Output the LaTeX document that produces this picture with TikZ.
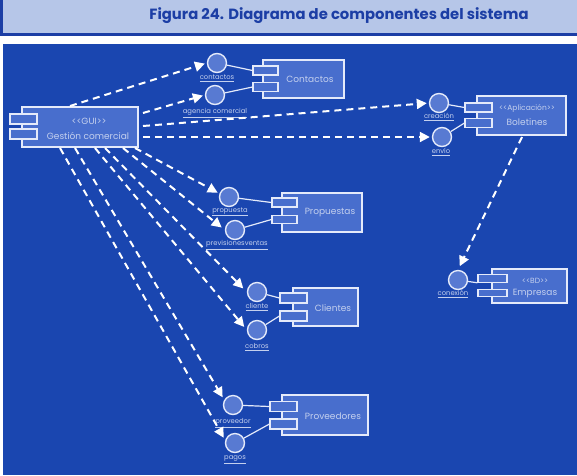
\documentclass[tikz,border=0pt]{standalone}
\usepackage{fontspec}
\setmainfont{Poppins}
\usetikzlibrary{arrows.meta}
\definecolor{bg}{RGB}{26,70,176}
\definecolor{titlebg}{RGB}{182,198,232}
\definecolor{titletext}{RGB}{28,62,165}
\definecolor{compfill}{RGB}{72,110,205}
\definecolor{circfill}{RGB}{88,122,210}
\definecolor{comptext}{RGB}{196,208,238}
\definecolor{edge}{RGB}{228,234,250}
\newcommand{\stereo}[1]{<\kern0pt<\kern0pt#1\kern0pt>\kern0pt>}
\tikzset{
  comp/.style={draw=edge, line width=1.1pt, fill=compfill, inner sep=0pt},
  tabbox/.style={draw=edge, line width=1.1pt, fill=compfill, inner sep=0pt},
  iface/.style={circle, draw=edge, line width=1.4pt, fill=circfill, minimum size=19pt, inner sep=0pt},
  conn/.style={draw=edge, line width=1.2pt},
  dep/.style={draw=white, line width=2pt, dash pattern=on 7pt off 5pt, shorten >=2pt,
     -{Triangle[length=10pt,width=10pt]}},
  lbl/.style={font=\fontsize{6.8}{7}\selectfont, text=comptext, inner sep=0pt},
  ctext/.style={font=\fontsize{9}{10}\selectfont, text=comptext, inner sep=0pt},
  stext/.style={font=\fontsize{7.5}{8}\selectfont, text=comptext, inner sep=0pt}
}
\begin{document}
\begin{tikzpicture}[x=1pt,y=-1pt]
\useasboundingbox (0,0) rectangle (577,475);
\fill[white] (0,0) rectangle (577,475);
% title bar
\fill[titlebg] (0,0) rectangle (577,34);
\draw[titletext, line width=2.5pt] (1.25,0) -- (1.25,34.5) -- (577,34.5);
\node[font=\bfseries\fontsize{14.8}{16}\selectfont, text=titletext, inner sep=0pt] (title) at (339,16) {Figura 24. Diagrama de componentes del sistema};
% background
\fill[bg] (2.5,44) rectangle (577,475);

% GUI component
\node[comp, minimum width=116pt, minimum height=40pt] (gui) at (80,127) {};
\node[tabbox, minimum width=27pt, minimum height=10pt] (gt1) at (23.5,119) {};
\node[tabbox, minimum width=27pt, minimum height=10pt] (gt2) at (23.5,134) {};
\node[ctext] (guit1) at (89,121) {\stereo{GUI}};
\node[ctext] (guit2) at (88,136) {Gestión comercial};

% Contactos
\node[comp, minimum width=81pt, minimum height=38pt] (cont) at (303.5,79) {};
\node[tabbox, minimum width=25pt, minimum height=9pt] (ct1) at (265.5,70.5) {};
\node[tabbox, minimum width=25pt, minimum height=9pt] (ct2) at (265.5,87) {};
\node[ctext] (contt) at (310,79) {Contactos};
\node[iface] (ic1) at (217,63) {};
\node[iface] (ic2) at (215,95) {};
\node[lbl] (lc1) at (217,78) {\underline{contactos}};
\node[lbl] (lc2) at (215,113) {\underline{agencia comercial}};
\draw[conn] (ic1) -- (ct1.west);
\draw[conn] (ic2) -- (ct2.west);

% Boletines
\node[comp, minimum width=89pt, minimum height=39pt] (bol) at (521.5,115.5) {};
\node[tabbox, minimum width=27pt, minimum height=9pt] (bt1) at (478.5,107.5) {};
\node[tabbox, minimum width=27pt, minimum height=9pt] (bt2) at (478.5,123) {};
\node[stext] (bolt1) at (527,109) {\stereo{Aplicación}};
\node[ctext] (bolt2) at (527,122) {Boletines};
\node[iface] (ib1) at (439,103) {};
\node[iface] (ib2) at (442,137) {};
\node[lbl] (lb1) at (439,117) {\underline{creación}};
\node[lbl] (lb2) at (441,152) {\underline{envío}};
\draw[conn] (ib1) -- (bt1.west);
\draw[conn] (ib2) -- (bt2.west);

% Empresas
\node[comp, minimum width=75pt, minimum height=34pt] (emp) at (529.5,286) {};
\node[tabbox, minimum width=29pt, minimum height=7.5pt] (et1) at (492.5,278.5) {};
\node[tabbox, minimum width=29pt, minimum height=7.5pt] (et2) at (492.5,293) {};
\node[stext] (empt1) at (535,281) {\stereo{BD}};
\node[ctext] (empt2) at (535,294) {Empresas};
\node[iface] (ie1) at (458,280) {};
\node[lbl] (le1) at (453,294) {\underline{conexión}};
\draw[conn] (ie1) -- (et1.south west);

% Propuestas
\node[comp, minimum width=80pt, minimum height=39pt] (prop) at (322,212.5) {};
\node[tabbox, minimum width=25pt, minimum height=9pt] (pt1) at (284.5,202.5) {};
\node[tabbox, minimum width=25pt, minimum height=8pt] (pt2) at (284.5,219.5) {};
\node[ctext] (propt) at (330,213) {Propuestas};
\node[iface] (ip1) at (229,197) {};
\node[iface] (ip2) at (235,230) {};
\node[lbl] (lp1) at (230,212) {\underline{propuesta}};
\node[lbl] (lp2) at (237,245) {\underline{previsionesventas}};
\draw[conn] (ip1) -- (pt1.west);
\draw[conn] (ip2) -- (pt2.west);

% Clientes
\node[comp, minimum width=65pt, minimum height=38pt] (cli) at (325.5,307) {};
\node[tabbox, minimum width=27pt, minimum height=10pt] (lt1) at (293.5,298) {};
\node[tabbox, minimum width=27pt, minimum height=10pt] (lt2) at (293.5,316) {};
\node[ctext] (clit) at (333,308) {Clientes};
\node[iface] (il1) at (257,292) {};
\node[iface] (il2) at (257,330) {};
\node[lbl] (ll1) at (257,307) {\underline{cliente}};
\node[lbl] (ll2) at (257,347) {\underline{cobros}};
\draw[conn] (il1) -- (lt1.west);
\draw[conn] (il2) -- (lt2.west);

% Proveedores
\node[comp, minimum width=86pt, minimum height=40pt] (prov) at (325,415) {};
\node[tabbox, minimum width=27pt, minimum height=10pt] (vt1) at (283.5,406.5) {};
\node[tabbox, minimum width=27pt, minimum height=10pt] (vt2) at (283.5,424) {};
\node[ctext] (provt) at (333,416) {Proveedores};
\node[iface] (iv1) at (233,405) {};
\node[iface] (iv2) at (235,443) {};
\node[lbl] (lv1) at (233,423) {\underline{proveedor}};
\node[lbl] (lv2) at (235,460) {\underline{pagos}};
\draw[conn] (iv1) -- (vt1.west);
\draw[conn] (iv2) -- (vt2.west);

% start points on GUI
\coordinate (s1) at (70,106);
\coordinate (s2) at (143,113);
\coordinate (s3) at (143,126);
\coordinate (s4) at (143,137);
\coordinate (s5) at (135,148);
\coordinate (s6) at (123,148);
\coordinate (s7) at (105,148);
\coordinate (s8) at (95,148);
\coordinate (s9) at (75,148);
\coordinate (s10) at (60,148);
\coordinate (sb) at (522,137);

\draw[dep] (s1) -- (ic1.west);
\draw[dep] (s2) -- (ic2.west);
\draw[dep] (s3) -- (ib1.west);
\draw[dep] (s4) -- (ib2.west);
\draw[dep] (s5) -- (ip1.160);
\draw[dep, shorten >=4pt] (s6) -- (ip2.west);
\draw[dep, shorten >=5pt] (s7) -- (il1.west);
\draw[dep, shorten >=4pt] (s8) -- (il2.west);
\draw[dep, shorten >=3pt] (s9) -- (iv1.150);
\draw[dep, shorten >=3pt] (s10) -- (iv2.165);
\draw[dep, shorten >=4pt] (sb) -- (ie1.north);
\end{tikzpicture}
\end{document}
